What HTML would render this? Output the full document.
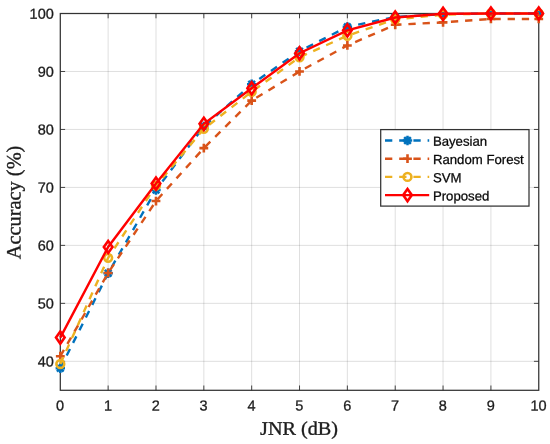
<!DOCTYPE html><html><head><meta charset="utf-8"><title>Accuracy vs JNR</title>
<style>html,body{margin:0;padding:0;background:#fff}body{width:550px;height:444px;overflow:hidden}svg{display:block}text{text-rendering:geometricPrecision}.t{font-family:"Liberation Sans",Arial,Helvetica,sans-serif;fill:#1c1c1c;stroke:#1c1c1c;stroke-width:0.3px}.s{font-family:"Liberation Serif","Times New Roman",serif;fill:#1c1c1c;stroke:#1c1c1c;stroke-width:0.35px}</style></head><body>
<svg width="550" height="444" viewBox="0 0 550 444">
<rect width="550" height="444" fill="#fff"/>
<path d="M108.14 13.5V390.3M155.99 13.5V390.3M203.83 13.5V390.3M251.68 13.5V390.3M299.52 13.5V390.3M347.37 13.5V390.3M395.22 13.5V390.3M443.06 13.5V390.3M490.91 13.5V390.3" stroke="#262626" stroke-opacity="0.15" stroke-width="1" fill="none"/>
<path d="M60.3 361.32H538.75M60.3 303.35H538.75M60.3 245.38H538.75M60.3 187.41H538.75M60.3 129.44H538.75M60.3 71.47H538.75" stroke="#262626" stroke-opacity="0.15" stroke-width="1" fill="none"/>
<rect x="60.3" y="13.5" width="478.45" height="376.8" fill="none" stroke="#333" stroke-width="1.25"/>
<path d="M108.14 390.3v-4.8M108.14 13.5v4.8M155.99 390.3v-4.8M155.99 13.5v4.8M203.83 390.3v-4.8M203.83 13.5v4.8M251.68 390.3v-4.8M251.68 13.5v4.8M299.52 390.3v-4.8M299.52 13.5v4.8M347.37 390.3v-4.8M347.37 13.5v4.8M395.22 390.3v-4.8M395.22 13.5v4.8M443.06 390.3v-4.8M443.06 13.5v4.8M490.91 390.3v-4.8M490.91 13.5v4.8M60.3 361.32h4.8M538.75 361.32h-4.8M60.3 303.35h4.8M538.75 303.35h-4.8M60.3 245.38h4.8M538.75 245.38h-4.8M60.3 187.41h4.8M538.75 187.41h-4.8M60.3 129.44h4.8M538.75 129.44h-4.8M60.3 71.47h4.8M538.75 71.47h-4.8" stroke="#262626" stroke-width="0.85" fill="none"/>
<text class="t" transform="rotate(0.03 60.30 410.5)" x="60.10" y="410.5" font-size="14.5" text-anchor="middle">0</text>
<text class="t" transform="rotate(0.03 108.14 410.5)" x="107.94" y="410.5" font-size="14.5" text-anchor="middle">1</text>
<text class="t" transform="rotate(0.03 155.99 410.5)" x="155.79" y="410.5" font-size="14.5" text-anchor="middle">2</text>
<text class="t" transform="rotate(0.03 203.83 410.5)" x="203.63" y="410.5" font-size="14.5" text-anchor="middle">3</text>
<text class="t" transform="rotate(0.03 251.68 410.5)" x="251.48" y="410.5" font-size="14.5" text-anchor="middle">4</text>
<text class="t" transform="rotate(0.03 299.52 410.5)" x="299.32" y="410.5" font-size="14.5" text-anchor="middle">5</text>
<text class="t" transform="rotate(0.03 347.37 410.5)" x="347.17" y="410.5" font-size="14.5" text-anchor="middle">6</text>
<text class="t" transform="rotate(0.03 395.22 410.5)" x="395.02" y="410.5" font-size="14.5" text-anchor="middle">7</text>
<text class="t" transform="rotate(0.03 443.06 410.5)" x="442.86" y="410.5" font-size="14.5" text-anchor="middle">8</text>
<text class="t" transform="rotate(0.03 490.91 410.5)" x="490.71" y="410.5" font-size="14.5" text-anchor="middle">9</text>
<text class="t" transform="rotate(0.03 538.75 410.5)" x="538.55" y="410.5" font-size="14.5" text-anchor="middle">10</text>
<text class="t" transform="rotate(0.03 53.8 366.52)" x="53.8" y="366.52" font-size="14.5" text-anchor="end">40</text>
<text class="t" transform="rotate(0.03 53.8 308.55)" x="53.8" y="308.55" font-size="14.5" text-anchor="end">50</text>
<text class="t" transform="rotate(0.03 53.8 250.58)" x="53.8" y="250.58" font-size="14.5" text-anchor="end">60</text>
<text class="t" transform="rotate(0.03 53.8 192.61)" x="53.8" y="192.61" font-size="14.5" text-anchor="end">70</text>
<text class="t" transform="rotate(0.03 53.8 134.64)" x="53.8" y="134.64" font-size="14.5" text-anchor="end">80</text>
<text class="t" transform="rotate(0.03 53.8 76.67)" x="53.8" y="76.67" font-size="14.5" text-anchor="end">90</text>
<text class="t" transform="rotate(0.03 53.8 18.70)" x="53.8" y="18.70" font-size="14.5" text-anchor="end">100</text>
<text class="s" transform="translate(299 434.7) rotate(0.03) scale(1 0.945)" x="0" y="0" font-size="20.2" text-anchor="middle">JNR (dB)</text>
<text class="s" transform="translate(20.5 202.4) rotate(-90.03)" font-size="20.35" text-anchor="middle">Accuracy (%)</text>
<polyline points="60.30,368.27 108.14,273.20 155.99,190.02 203.83,126.54 251.68,84.22 299.52,51.18 347.37,26.83 395.22,16.98 443.06,14.08 490.91,13.50 538.75,13.50" fill="none" stroke="#0072BD" stroke-width="2.4" stroke-dasharray="7.3 6.9" stroke-linejoin="miter"/>
<path d="M55.60 368.27H65.00M60.30 363.57V372.97M56.98 364.95L63.62 371.60M56.98 371.60L63.62 364.95" fill="none" stroke="#0072BD" stroke-width="2.55"/>
<path d="M103.44 273.20H112.84M108.14 268.50V277.90M104.82 269.88L111.47 276.53M104.82 276.53L111.47 269.88" fill="none" stroke="#0072BD" stroke-width="2.55"/>
<path d="M151.29 190.02H160.69M155.99 185.32V194.72M152.67 186.69L159.31 193.34M152.67 193.34L159.31 186.69" fill="none" stroke="#0072BD" stroke-width="2.55"/>
<path d="M199.13 126.54H208.53M203.83 121.84V131.24M200.51 123.22L207.16 129.86M200.51 129.86L207.16 123.22" fill="none" stroke="#0072BD" stroke-width="2.55"/>
<path d="M246.98 84.22H256.38M251.68 79.52V88.92M248.36 80.90L255.00 87.55M248.36 87.55L255.00 80.90" fill="none" stroke="#0072BD" stroke-width="2.55"/>
<path d="M294.82 51.18H304.22M299.52 46.48V55.88M296.20 47.86L302.85 54.50M296.20 54.50L302.85 47.86" fill="none" stroke="#0072BD" stroke-width="2.55"/>
<path d="M342.67 26.83H352.07M347.37 22.13V31.53M344.05 23.51L350.69 30.16M344.05 30.16L350.69 23.51" fill="none" stroke="#0072BD" stroke-width="2.55"/>
<path d="M390.52 16.98H399.92M395.22 12.28V21.68M391.89 13.65L398.54 20.30M391.89 20.30L398.54 13.65" fill="none" stroke="#0072BD" stroke-width="2.55"/>
<path d="M438.36 14.08H447.76M443.06 9.38V18.78M439.74 10.76L446.38 17.40M439.74 17.40L446.38 10.76" fill="none" stroke="#0072BD" stroke-width="2.55"/>
<path d="M486.21 13.50H495.61M490.91 8.80V18.20M487.58 10.18L494.23 16.82M487.58 16.82L494.23 10.18" fill="none" stroke="#0072BD" stroke-width="2.55"/>
<path d="M534.05 13.50H543.45M538.75 8.80V18.20M535.43 10.18L542.07 16.82M535.43 16.82L542.07 10.18" fill="none" stroke="#0072BD" stroke-width="2.55"/>
<polyline points="60.30,356.27 108.14,272.97 155.99,201.03 203.83,148.16 251.68,100.63 299.52,71.47 347.37,45.44 395.22,24.80 443.06,22.37 490.91,18.95 538.75,18.95" fill="none" stroke="#D95319" stroke-width="2.4" stroke-dasharray="7.3 6.9" stroke-linejoin="miter"/>
<path d="M55.90 356.27H64.70M60.30 351.87V360.67" fill="none" stroke="#D95319" stroke-width="2.6"/>
<path d="M103.74 272.97H112.55M108.14 268.57V277.37" fill="none" stroke="#D95319" stroke-width="2.6"/>
<path d="M151.59 201.03H160.39M155.99 196.63V205.43" fill="none" stroke="#D95319" stroke-width="2.6"/>
<path d="M199.43 148.16H208.23M203.83 143.76V152.56" fill="none" stroke="#D95319" stroke-width="2.6"/>
<path d="M247.28 100.63H256.08M251.68 96.23V105.03" fill="none" stroke="#D95319" stroke-width="2.6"/>
<path d="M295.12 71.47H303.92M299.52 67.07V75.87" fill="none" stroke="#D95319" stroke-width="2.6"/>
<path d="M342.97 45.44H351.77M347.37 41.04V49.84" fill="none" stroke="#D95319" stroke-width="2.6"/>
<path d="M390.82 24.80H399.62M395.22 20.40V29.20" fill="none" stroke="#D95319" stroke-width="2.6"/>
<path d="M438.66 22.37H447.46M443.06 17.97V26.77" fill="none" stroke="#D95319" stroke-width="2.6"/>
<path d="M486.51 18.95H495.31M490.91 14.55V23.35" fill="none" stroke="#D95319" stroke-width="2.6"/>
<path d="M534.35 18.95H543.15M538.75 14.55V23.35" fill="none" stroke="#D95319" stroke-width="2.6"/>
<polyline points="60.30,363.98 108.14,257.84 155.99,185.67 203.83,128.86 251.68,91.76 299.52,57.27 347.37,35.70 395.22,19.30 443.06,14.66 490.91,13.50 538.75,13.50" fill="none" stroke="#EDB120" stroke-width="2.4" stroke-dasharray="7.3 6.9" stroke-linejoin="miter"/>
<circle cx="60.30" cy="363.98" r="3.9" fill="none" stroke="#EDB120" stroke-width="2.6"/>
<circle cx="108.14" cy="257.84" r="3.9" fill="none" stroke="#EDB120" stroke-width="2.6"/>
<circle cx="155.99" cy="185.67" r="3.9" fill="none" stroke="#EDB120" stroke-width="2.6"/>
<circle cx="203.83" cy="128.86" r="3.9" fill="none" stroke="#EDB120" stroke-width="2.6"/>
<circle cx="251.68" cy="91.76" r="3.9" fill="none" stroke="#EDB120" stroke-width="2.6"/>
<circle cx="299.52" cy="57.27" r="3.9" fill="none" stroke="#EDB120" stroke-width="2.6"/>
<circle cx="347.37" cy="35.70" r="3.9" fill="none" stroke="#EDB120" stroke-width="2.6"/>
<circle cx="395.22" cy="19.30" r="3.9" fill="none" stroke="#EDB120" stroke-width="2.6"/>
<circle cx="443.06" cy="14.66" r="3.9" fill="none" stroke="#EDB120" stroke-width="2.6"/>
<circle cx="490.91" cy="13.50" r="3.9" fill="none" stroke="#EDB120" stroke-width="2.6"/>
<circle cx="538.75" cy="13.50" r="3.9" fill="none" stroke="#EDB120" stroke-width="2.6"/>
<polyline points="60.30,337.61 108.14,247.00 155.99,183.52 203.83,123.82 251.68,88.28 299.52,53.27 347.37,30.31 395.22,17.50 443.06,13.79 490.91,13.50 538.75,13.50" fill="none" stroke="#FF0000" stroke-width="2.4" stroke-linejoin="miter"/>
<path d="M60.30 331.51L64.60 337.61L60.30 343.71L56.00 337.61Z" fill="none" stroke="#FF0000" stroke-width="2.6" stroke-linejoin="miter" stroke-miterlimit="10"/>
<path d="M108.14 240.90L112.44 247.00L108.14 253.10L103.84 247.00Z" fill="none" stroke="#FF0000" stroke-width="2.6" stroke-linejoin="miter" stroke-miterlimit="10"/>
<path d="M155.99 177.42L160.29 183.52L155.99 189.62L151.69 183.52Z" fill="none" stroke="#FF0000" stroke-width="2.6" stroke-linejoin="miter" stroke-miterlimit="10"/>
<path d="M203.83 117.72L208.13 123.82L203.83 129.92L199.53 123.82Z" fill="none" stroke="#FF0000" stroke-width="2.6" stroke-linejoin="miter" stroke-miterlimit="10"/>
<path d="M251.68 82.18L255.98 88.28L251.68 94.38L247.38 88.28Z" fill="none" stroke="#FF0000" stroke-width="2.6" stroke-linejoin="miter" stroke-miterlimit="10"/>
<path d="M299.52 47.17L303.82 53.27L299.52 59.37L295.22 53.27Z" fill="none" stroke="#FF0000" stroke-width="2.6" stroke-linejoin="miter" stroke-miterlimit="10"/>
<path d="M347.37 24.21L351.67 30.31L347.37 36.41L343.07 30.31Z" fill="none" stroke="#FF0000" stroke-width="2.6" stroke-linejoin="miter" stroke-miterlimit="10"/>
<path d="M395.22 11.40L399.52 17.50L395.22 23.60L390.92 17.50Z" fill="none" stroke="#FF0000" stroke-width="2.6" stroke-linejoin="miter" stroke-miterlimit="10"/>
<path d="M443.06 7.69L447.36 13.79L443.06 19.89L438.76 13.79Z" fill="none" stroke="#FF0000" stroke-width="2.6" stroke-linejoin="miter" stroke-miterlimit="10"/>
<path d="M490.91 7.40L495.21 13.50L490.91 19.60L486.61 13.50Z" fill="none" stroke="#FF0000" stroke-width="2.6" stroke-linejoin="miter" stroke-miterlimit="10"/>
<path d="M538.75 7.40L543.05 13.50L538.75 19.60L534.45 13.50Z" fill="none" stroke="#FF0000" stroke-width="2.6" stroke-linejoin="miter" stroke-miterlimit="10"/>
<rect x="380.7" y="129.6" width="148.3" height="76.5" fill="#fff" stroke="#333" stroke-width="1.25"/>
<path d="M385 140.5H429.2" stroke="#0072BD" stroke-width="2.4" stroke-dasharray="7.3 6.9" fill="none"/>
<path d="M402.80 140.50H412.20M407.50 135.80V145.20M404.18 137.18L410.82 143.82M404.18 143.82L410.82 137.18" fill="none" stroke="#0072BD" stroke-width="2.55"/>
<text class="t" transform="rotate(0.03 432.9 145.80)" x="432.9" y="145.80" font-size="13.2" fill="#000" style="fill:#000">Bayesian</text>
<path d="M385 158.7H429.2" stroke="#D95319" stroke-width="2.4" stroke-dasharray="7.3 6.9" fill="none"/>
<path d="M403.10 158.70H411.90M407.50 154.30V163.10" fill="none" stroke="#D95319" stroke-width="2.6"/>
<text class="t" transform="rotate(0.03 432.9 164.00)" x="432.9" y="164.00" font-size="13.2" fill="#000" style="fill:#000">Random Forest</text>
<path d="M385 176.9H429.2" stroke="#EDB120" stroke-width="2.4" stroke-dasharray="7.3 6.9" fill="none"/>
<circle cx="407.50" cy="176.90" r="3.9" fill="none" stroke="#EDB120" stroke-width="2.6"/>
<text class="t" transform="rotate(0.03 432.9 182.20)" x="432.9" y="182.20" font-size="13.2" fill="#000" style="fill:#000">SVM</text>
<path d="M385 195.1H429.2" stroke="#FF0000" stroke-width="2.4" fill="none"/>
<path d="M407.50 189.00L411.80 195.10L407.50 201.20L403.20 195.10Z" fill="none" stroke="#FF0000" stroke-width="2.6" stroke-linejoin="miter" stroke-miterlimit="10"/>
<text class="t" transform="rotate(0.03 432.9 200.40)" x="432.9" y="200.40" font-size="13.2" fill="#000" style="fill:#000">Proposed</text>
</svg></body></html>
